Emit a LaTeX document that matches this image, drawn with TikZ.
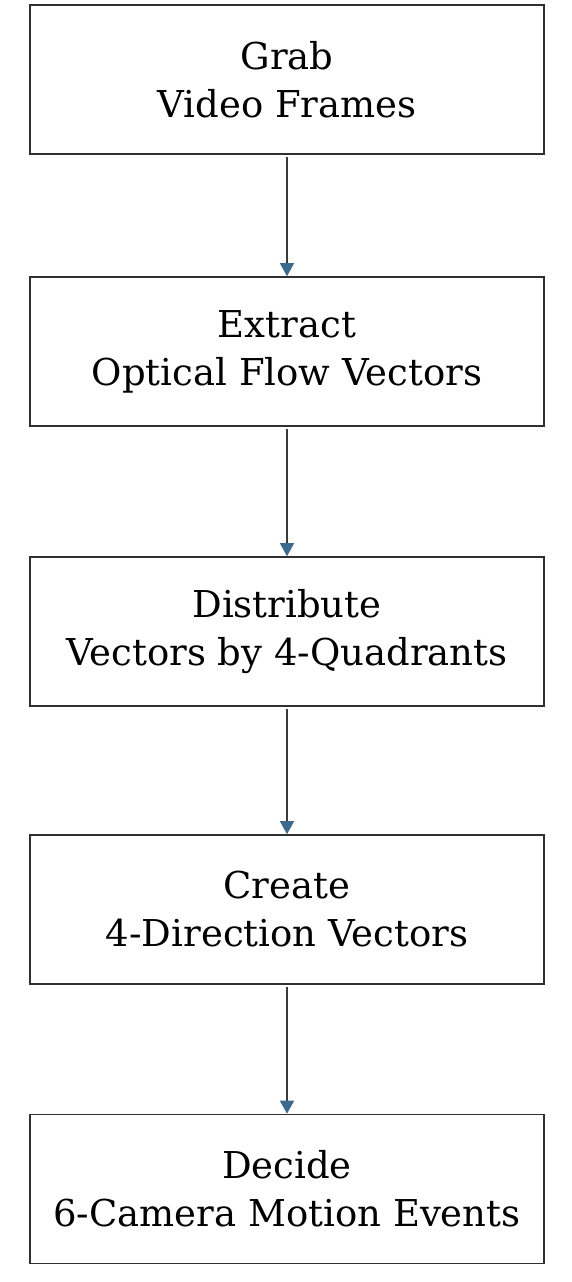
\documentclass[tikz,border=0pt]{standalone}
\usepackage{fontspec}
\setmainfont{DejaVu Serif}
\usetikzlibrary{arrows.meta}
\definecolor{boxgray}{HTML}{303030}
\definecolor{linegray}{HTML}{3A3A3A}
\definecolor{arrowblue}{HTML}{3C6A8E}
\begin{document}
\begin{tikzpicture}[x=1pt,y=-1pt]
\useasboundingbox[fill=white] (0,0) rectangle (571,1282);
\tikzset{
  stepbox/.style={draw=boxgray, line width=1.6pt, minimum width=514pt,
    minimum height=149pt, align=center, inner sep=0pt,
    font=\fontsize{37}{48}\selectfont},
  flow/.style={draw=linegray, line width=1.4pt, shorten <=2pt,
    -{Triangle[width=14pt,length=13pt,color=arrowblue]}}
}
\node[stepbox] (b1) at (287,79.5) {Grab\\Video Frames};
\node[stepbox] (b2) at (287,351.5) {Extract\\Optical Flow Vectors};
\node[stepbox] (b3) at (287,631.5) {Distribute\\Vectors by 4-Quadrants};
\node[stepbox] (b4) at (287,909.5) {Create\\4-Direction Vectors};
\node[stepbox] (b5) at (287,1189) {Decide\\6-Camera Motion Events};
\draw[flow] (b1.south) -- (b2.north);
\draw[flow] (b2.south) -- (b3.north);
\draw[flow] (b3.south) -- (b4.north);
\draw[flow] (b4.south) -- (b5.north);
\end{tikzpicture}
\end{document}
